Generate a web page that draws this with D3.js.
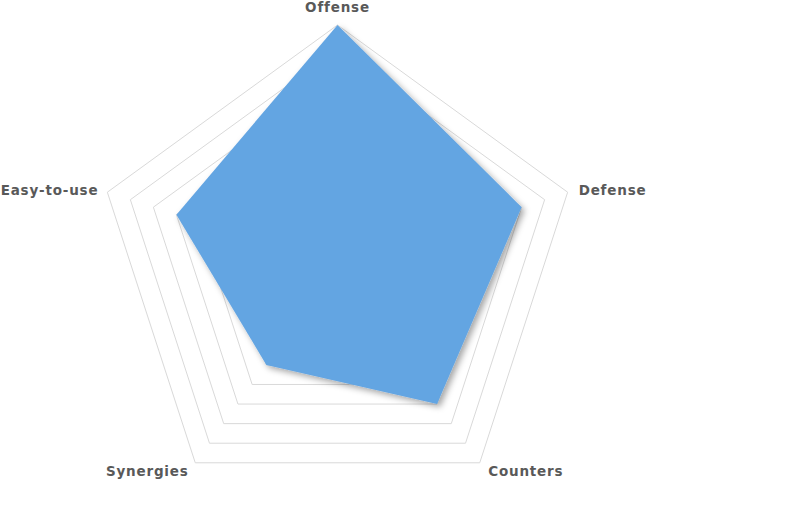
<!DOCTYPE html>
<html>
<head>
  <script src="https://d3js.org/d3.v7.min.js"></script>
  <style>
    body { margin: 0; background: #fff; }
    .axis-label { font-family: 'DejaVu Sans', sans-serif; font-weight: bold; font-size: 13.5px; letter-spacing: 0.8px; fill: #595959; }
  </style>
</head>
<body>
  <div id="radar"></div>
  <script>
    // chart data
    var categories = ['Offense', 'Defense', 'Counters', 'Synergies', 'Easy-to-use'];
    var values = [10, 8, 7, 5, 7];
    var gridLevels = [1, 2, 3, 4, 5, 6, 7, 8, 9, 10];

    var width = 810, height = 508;
    var cx = 337.5, cy = 267, radius = 242;

    var svg = d3.select('#radar').append('svg')
      .attr('width', width)
      .attr('height', height);

    var defs = svg.append('defs');
    var filter = defs.append('filter')
      .attr('id', 'shadow')
      .attr('x', '-20%').attr('y', '-20%')
      .attr('width', '140%').attr('height', '140%');
    filter.append('feDropShadow')
      .attr('dx', 3).attr('dy', 3)
      .attr('stdDeviation', 3)
      .attr('flood-color', '#000')
      .attr('flood-opacity', 0.35);

    var g = svg.append('g')
      .attr('transform', 'translate(' + cx + ',' + cy + ')');

    var r = d3.scaleLinear().domain([0, 10]).range([0, radius]);
    var angle = d3.scalePoint()
      .domain(categories.concat(['_end']))
      .range([0, 2 * Math.PI]);

    function pt(cat, v) {
      var a = angle(cat);
      return [Math.sin(a) * r(v), -Math.cos(a) * r(v)];
    }

    // grid rings
    g.selectAll('.ring')
      .data(gridLevels)
      .enter()
      .append('polygon')
      .attr('class', 'ring')
      .attr('points', function(lv) {
        return categories.map(function(c) { return pt(c, lv).join(','); }).join(' ');
      })
      .attr('fill', 'none')
      .attr('stroke', '#d9d9d9')
      .attr('stroke-width', 1);

    // data polygon
    g.append('polygon')
      .datum(values)
      .attr('points', function(d) {
        return categories.map(function(c, i) { return pt(c, d[i]).join(','); }).join(' ');
      })
      .attr('fill', '#64a5e2')
      .attr('filter', 'url(#shadow)');

    // labels
    var labelPos = {
      'Offense': { dx: 0, dy: -18, anchor: 'middle' },
      'Defense': { dx: 11, dy: -2, anchor: 'start' },
      'Counters': { dx: 46, dy: 8, anchor: 'middle' },
      'Synergies': { dx: -48, dy: 8, anchor: 'middle' },
      'Easy-to-use': { dx: -9, dy: -2, anchor: 'end' }
    };

    g.selectAll('.axis-label')
      .data(categories)
      .enter()
      .append('text')
      .attr('class', 'axis-label')
      .attr('x', function(c) { return pt(c, 10)[0] + labelPos[c].dx; })
      .attr('y', function(c) { return pt(c, 10)[1] + labelPos[c].dy; })
      .attr('dy', '0.35em')
      .attr('text-anchor', function(c) { return labelPos[c].anchor; })
      .text(function(c) { return c; });
  </script>
</body>
</html>
